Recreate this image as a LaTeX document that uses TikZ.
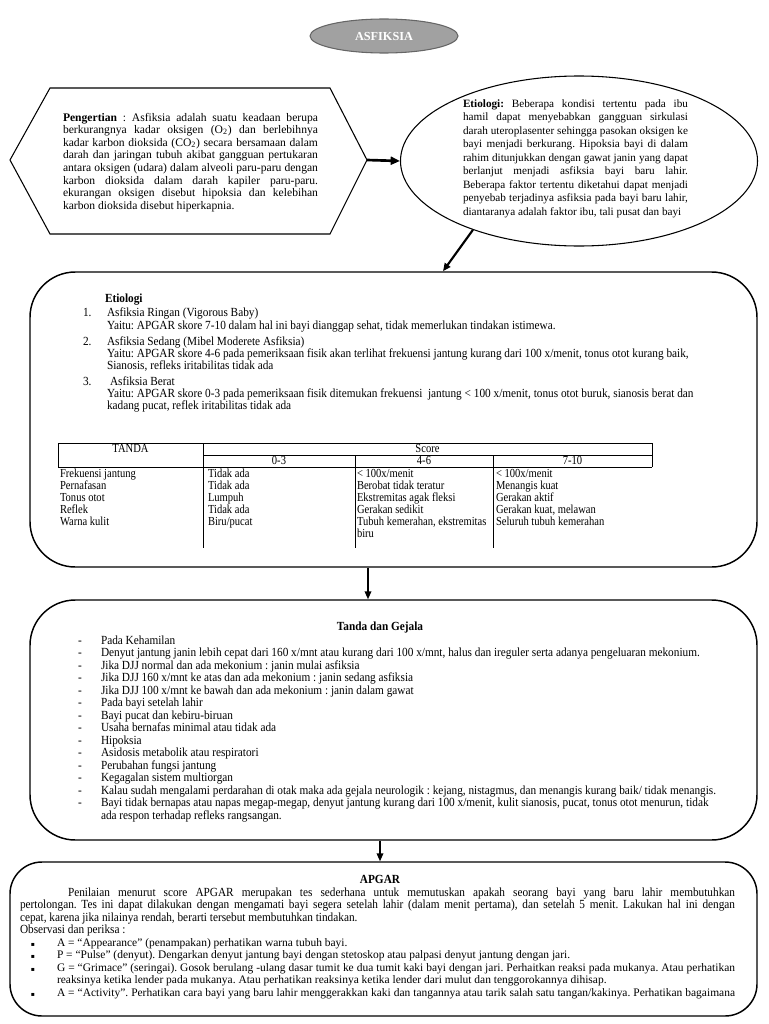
\documentclass[tikz,border=0pt]{standalone}
\usepackage{fontspec}
\setmainfont{Liberation Serif}
\newfontfamily\condfam{Liberation Serif}[FakeStretch=0.86]
\newfontfamily\midfam{Liberation Serif}[FakeStretch=0.91]
\newfontfamily\symf{DejaVu Sans}
\usetikzlibrary{shapes.geometric,arrows.meta}
\newcommand\fP{\fontsize{8.7}{10}\selectfont}
\newcommand\fE{\fontsize{8.4}{10}\selectfont}
\newcommand\fT{\fontsize{9.2}{10}\selectfont}
\newcommand\fB{\midfam\fontsize{9.3}{10}\selectfont}
\newcommand\fTab{\condfam\fontsize{9.2}{10}\selectfont}
\newcommand\fG{\fontsize{8.6}{10}\selectfont}
\newcommand\jb[2]{\makebox[#1][s]{#2}}
\frenchspacing
\begin{document}
\begin{tikzpicture}[x=0.75pt,y=-0.75pt,
  txt/.style={anchor=mid west,inner sep=0pt,outer sep=0pt},
  ctxt/.style={anchor=mid,inner sep=0pt,outer sep=0pt},
  roundbox/.style={draw,line width=1.1pt,rounded corners=#1,inner sep=0pt},
  link/.style={line width=1.1pt,-{Triangle[length=6pt,width=5pt]}},
  biglink/.style={line width=2pt,-{Triangle[length=7pt,width=6pt]}},
  tline/.style={line width=0.6pt},
  sq/.style={txt,font=\symf\fontsize{4.5}{6}\selectfont}]
\useasboundingbox (0,0) rectangle (768,1024);

% title
\node[ellipse,draw=black!60,fill=black!37,line width=0.8pt,minimum width=111pt,minimum height=25.5pt,inner sep=0pt,font=\fT\bfseries,text=white] (title) at (384,36) {ASFIKSIA};

% hexagon
\draw[line width=0.8pt] (50,88) -- (330,88) -- (367,160) coordinate (hexR) -- (330,234) -- (50,234) -- (10,160) -- cycle;
\begin{scope}[every node/.style={txt,font=\fP}]
\node (p1) at (63,118) {\jb{191.25pt}{\textbf{Pengertian} : Asfiksia adalah suatu keadaan berupa}};
\node (p2) at (63,130.6) {\jb{191.25pt}{berkurangnya kadar oksigen (O\textsubscript{2}) dan berlebihnya}};
\node (p3) at (63,143.2) {\jb{191.25pt}{kadar karbon dioksida (CO\textsubscript{2}) secara bersamaan dalam}};
\node (p4) at (63,155.8) {\jb{191.25pt}{darah dan jaringan tubuh akibat gangguan pertukaran}};
\node (p5) at (63,168.4) {\jb{191.25pt}{antara oksigen (udara) dalam alveoli paru-paru dengan}};
\node (p6) at (63,181) {\jb{191.25pt}{karbon dioksida dalam darah kapiler paru-paru.}};
\node (p7) at (63,193.6) {\jb{191.25pt}{ekurangan oksigen disebut hipoksia dan kelebihan}};
\node (p8) at (63,206.2) {karbon dioksida disebut hiperkapnia.};
\end{scope}

% etiologi ellipse
\node[ellipse,draw,line width=0.8pt,minimum width=267.75pt,minimum height=127.5pt,inner sep=0pt] (etio) at (579,161) {};
\begin{scope}[every node/.style={txt,font=\fE}]
\node (q1) at (463,104) {\jb{168.75pt}{\textbf{Etiologi:} Beberapa kondisi tertentu pada ibu}};
\node (q2) at (463,117.5) {\jb{168.75pt}{hamil dapat menyebabkan gangguan sirkulasi}};
\node (q3) at (463,131) {\jb{168.75pt}{darah uteroplasenter sehingga pasokan oksigen ke}};
\node (q4) at (463,144.5) {\jb{168.75pt}{bayi menjadi berkurang. Hipoksia bayi di dalam}};
\node (q5) at (463,158) {\jb{168.75pt}{rahim ditunjukkan dengan gawat janin yang dapat}};
\node (q6) at (463,171.5) {\jb{168.75pt}{berlanjut menjadi asfiksia bayi baru lahir.}};
\node (q7) at (463,185) {\jb{168.75pt}{Beberapa faktor tertentu diketahui dapat menjadi}};
\node (q8) at (463,198.5) {\jb{168.75pt}{penyebab terjadinya asfiksia pada bayi baru lahir,}};
\node (q9) at (463,212) {diantaranya adalah faktor ibu, tali pusat dan bayi};
\end{scope}

\draw[biglink] (hexR) -- (etio.west);

% box 1
\node[roundbox=34pt,minimum width=545.25pt,minimum height=221.25pt] (b1) at (393.5,419.5) {};
\draw[line width=1.6pt,-{Triangle[length=6pt,width=5pt]}] (etio.213) -- (b1.north -| 443,0);

\begin{scope}[every node/.style={txt,font=\fB}]
\node[font=\fB\bfseries] (e0) at (105,299) {Etiologi};
\node (n1) at (83,313) {1.};
\node (e1) at (107,313) {Asfiksia Ringan (Vigorous Baby)};
\node (e2) at (107,326) {Yaitu: APGAR skore 7-10 dalam hal ini bayi dianggap sehat, tidak memerlukan tindakan istimewa.};
\node (n2) at (83,342) {2.};
\node (e3) at (107,342) {Asfiksia Sedang (Mibel Moderete Asfiksia)};
\node (e4) at (107,354) {Yaitu: APGAR skore 4-6 pada pemeriksaan fisik akan terlihat frekuensi jantung kurang dari 100 x/menit, tonus otot kurang baik,};
\node (e5) at (107,366) {Sianosis, refleks iritabilitas tidak ada};
\node (n3) at (83,382) {3.};
\node (e6) at (110,382) {Asfiksia Berat};
\node (e7) at (107,394) {Yaitu: APGAR skore 0-3 pada pemeriksaan fisik ditemukan frekuensi\ \ jantung < 100 x/menit, tonus otot buruk, sianosis berat dan};
\node (e8) at (107,406) {kadang pucat, reflek iritabilitas tidak ada};
\end{scope}

% table
\draw[tline] (58,443) -- (652,443);
\draw[tline] (203,455) -- (652,455);
\draw[tline] (58,467) -- (652,467);
\draw[tline] (58,443) -- (58,467);
\draw[tline] (652,443) -- (652,467);
\draw[tline] (203,443) -- (203,548);
\draw[tline] (355,455) -- (355,548);
\draw[tline] (493,455) -- (493,548);
\begin{scope}[every node/.style={ctxt,font=\fTab}]
\node (h1) at (130.5,449) {TANDA};
\node (h2) at (427.5,449) {Score};
\node (h3) at (279,461) {0-3};
\node (h4) at (424,461) {4-6};
\node (h5) at (572.5,461) {7-10};
\end{scope}
\begin{scope}[every node/.style={txt,font=\fTab}]
\node (c11) at (60,474) {Frekuensi jantung};
\node (c12) at (60,486) {Pernafasan};
\node (c13) at (60,498) {Tonus otot};
\node (c14) at (60,510) {Reflek};
\node (c15) at (60,522) {Warna kulit};
\node (c21) at (208,474) {Tidak ada};
\node (c22) at (208,486) {Tidak ada};
\node (c23) at (208,498) {Lumpuh};
\node (c24) at (208,510) {Tidak ada};
\node (c25) at (208,522) {Biru/pucat};
\node (c31) at (357,474) {< 100x/menit};
\node (c32) at (357,486) {Berobat tidak teratur};
\node (c33) at (357,498) {Ekstremitas agak fleksi};
\node (c34) at (357,510) {Gerakan sedikit};
\node (c35) at (357,522) {Tubuh kemerahan, ekstremitas};
\node (c36) at (357,534) {biru};
\node (c41) at (496,474) {< 100x/menit};
\node (c42) at (496,486) {Menangis kuat};
\node (c43) at (496,498) {Gerakan aktif};
\node (c44) at (496,510) {Gerakan kuat, melawan};
\node (c45) at (496,522) {Seluruh tubuh kemerahan};
\end{scope}

% box 2
\node[roundbox=34pt,minimum width=545.25pt,minimum height=180pt] (b2) at (393.5,720) {};
\draw[link] (b1.south -| 368,0) -- (b2.north -| 368,0);
\node[ctxt,font=\fB\bfseries] (tg) at (380,627) {Tanda dan Gejala};
\begin{scope}[every node/.style={txt,font=\fB}]
\node (d1) at (78,641) {-}; \node (g1) at (101,641) {Pada Kehamilan};
\node (d2) at (78,653.5) {-}; \node (g2) at (101,653.5) {Denyut jantung janin lebih cepat dari 160 x/mnt atau kurang dari 100 x/mnt, halus dan ireguler serta adanya pengeluaran mekonium.};
\node (d3) at (78,666) {-}; \node (g3) at (101,666) {Jika DJJ normal dan ada mekonium : janin mulai asfiksia};
\node (d4) at (78,678.5) {-}; \node (g4) at (101,678.5) {Jika DJJ 160 x/mnt ke atas dan ada mekonium : janin sedang asfiksia};
\node (d5) at (78,691) {-}; \node (g5) at (101,691) {Jika DJJ 100 x/mnt ke bawah dan ada mekonium : janin dalam gawat};
\node (d6) at (78,703.5) {-}; \node (g6) at (101,703.5) {Pada bayi setelah lahir};
\node (d7) at (78,716) {-}; \node (g7) at (101,716) {Bayi pucat dan kebiru-biruan};
\node (d8) at (78,728.5) {-}; \node (g8) at (101,728.5) {Usaha bernafas minimal atau tidak ada};
\node (d9) at (78,741) {-}; \node (g9) at (101,741) {Hipoksia};
\node (d10) at (78,753.5) {-}; \node (g10) at (101,753.5) {Asidosis metabolik atau respiratori};
\node (d11) at (78,766) {-}; \node (g11) at (101,766) {Perubahan fungsi jantung};
\node (d12) at (78,778.5) {-}; \node (g12) at (101,778.5) {Kegagalan sistem multiorgan};
\node (d13) at (78,791) {-}; \node (g13) at (101,791) {Kalau sudah mengalami perdarahan di otak maka ada gejala neurologik : kejang, nistagmus, dan menangis kurang baik/ tidak menangis.};
\node (d14) at (78,803.5) {-}; \node (g14) at (101,803.5) {Bayi tidak bernapas atau napas megap-megap, denyut jantung kurang dari 100 x/menit, kulit sianosis, pucat, tonus otot menurun, tidak};
\node (g15) at (101,816) {ada respon terhadap refleks rangsangan.};
\end{scope}

% box 3
\node[roundbox=24pt,minimum width=560.25pt,minimum height=115.5pt] (b3) at (383.5,939) {};
\draw[link] (b2.south -| 380,0) -- (b3.north -| 380,0);
\node[ctxt,font=\fB\bfseries] (ap) at (380,880) {APGAR};
\begin{scope}[every node/.style={txt,font=\fB}]
\node (a1) at (68,893) {\jb{500.25pt}{Penilaian menurut score APGAR merupakan tes sederhana untuk memutuskan apakah seorang bayi yang baru lahir membutuhkan}};
\node (a2) at (20,905.5) {\jb{536.25pt}{pertolongan. Tes ini dapat dilakukan dengan mengamati bayi segera setelah lahir (dalam menit pertama), dan setelah 5 menit. Lakukan hal ini dengan}};
\node (a3) at (20,918) {cepat, karena jika nilainya rendah, berarti tersebut membutuhkan tindakan.};
\node (a4) at (20,930.5) {Observasi dan periksa :};
\end{scope}
\begin{scope}[every node/.style={txt,font=\fG}]
\node[sq] (s1) at (31,943) {▪};
\node (a5) at (57,943) {A = “Appearance” (penampakan) perhatikan warna tubuh bayi.};
\node[sq] (s2) at (31,955.5) {▪};
\node (a6) at (57,955.5) {P = “Pulse” (denyut). Dengarkan denyut jantung bayi dengan stetoskop atau palpasi denyut jantung dengan jari.};
\node[sq] (s3) at (31,968) {▪};
\node (a7) at (57,968) {\jb{508.5pt}{G = “Grimace” (seringai). Gosok berulang -ulang dasar tumit ke dua tumit kaki bayi dengan jari. Perhaitkan reaksi pada mukanya. Atau perhatikan}};
\node (a8) at (57,980.5) {reaksinya ketika lender pada mukanya. Atau perhatikan reaksinya ketika lender dari mulut dan tenggorokannya dihisap.};
\node[sq] (s4) at (31,993) {▪};
\node (a9) at (57,993) {\jb{508.5pt}{A = “Activity”. Perhatikan cara bayi yang baru lahir menggerakkan kaki dan tangannya atau tarik salah satu tangan/kakinya. Perhatikan bagaimana}};
\end{scope}
\end{tikzpicture}
\end{document}
